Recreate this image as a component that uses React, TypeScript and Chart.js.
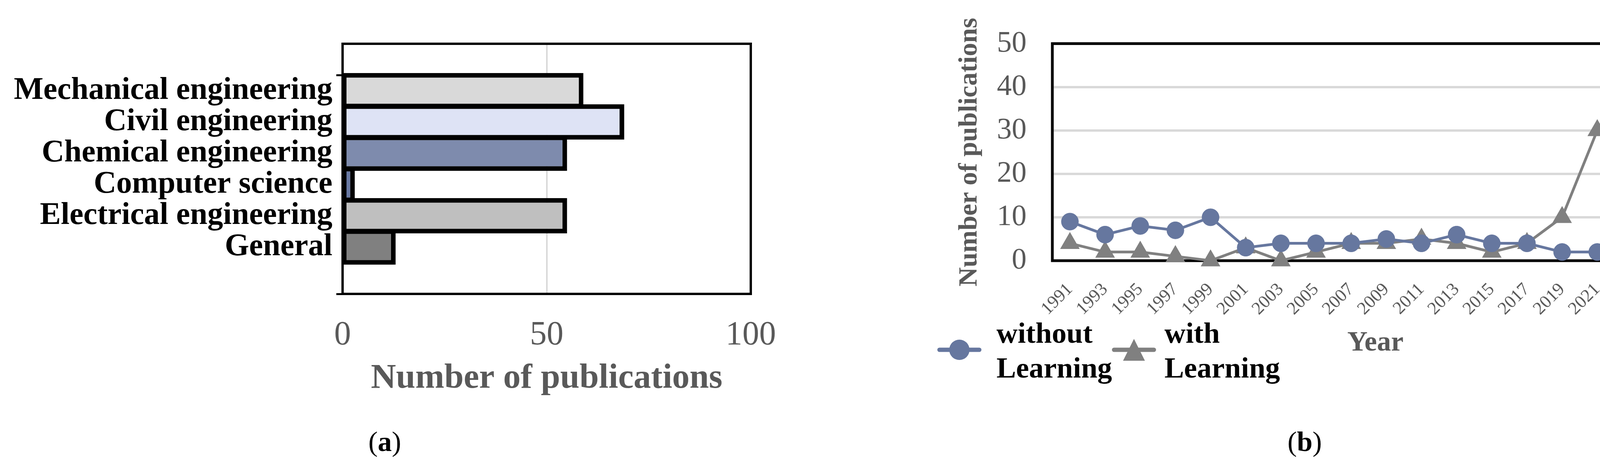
import React, { useEffect, useRef } from 'react';
import { Chart, registerables } from 'chart.js';

Chart.register(...registerables);

const FONT = '"Liberation Serif", "Times New Roman", serif';
const GRAY_TEXT = '#595959';
const GRID = '#d9d9d9';
const CLEAR = 'rgba(0,0,0,0)';

// ---------- (a) publications by field ----------
const fields = [
  'Mechanical engineering',
  'Civil engineering',
  'Chemical engineering',
  'Computer science',
  'Electrical engineering',
  'General',
];
const publications = [59, 69, 55, 3, 55, 13];
const fieldColors = ['#d9d9d9', '#dee3f5', '#7e8bad', '#6979a3', '#bfbfbf', '#808080'];
const xTitleA = 'Number of publications';

// ---------- (b) publications per year ----------
const years = [
  '1991', '1993', '1995', '1997', '1999', '2001', '2003', '2005', '2007',
  '2009', '2011', '2013', '2015', '2017', '2019', '2021', '2023',
];
const withoutLearning = [9, 6, 8, 7, 10, 3, 4, 4, 4, 5, 4, 6, 4, 4, 2, 2, 1];
const withLearning = [4, 2, 2, 1, 0, 3, 0, 2, 4, 4, 5, 4, 2, 4, 10, 30, 40];
const seriesNames = ['without Learning', 'with Learning'];
const seriesColors = ['#66779f', '#808080'];
const yTitleB = 'Number of publications';
const xTitleB = 'Year';

function drawFrame(chart: any, opts: any) {
  const { ctx, chartArea: a } = chart;
  ctx.save();
  ctx.strokeStyle = '#000';
  ctx.lineWidth = opts.width || 6;
  ctx.strokeRect(a.left, a.top, a.right - a.left, a.bottom - a.top);
  ctx.restore();
}

const framePlugin = {
  id: 'frame',
  beforeDatasetsDraw(chart: any, _a: any, opts: any) {
    if (!opts.after) drawFrame(chart, opts);
  },
  afterDatasetsDraw(chart: any, _a: any, opts: any) {
    if (opts.after) drawFrame(chart, opts);
  },
};

const legendPlugin = {
  id: 'customLegend',
  afterDraw(chart: any, _a: any, o: any) {
    const ctx = chart.ctx;
    chart.data.datasets.forEach((d: any, i: number) => {
      const it = o.items[i];
      ctx.save();
      ctx.strokeStyle = d.borderColor;
      ctx.lineWidth = o.lineWidth;
      ctx.lineCap = 'round';
      ctx.beginPath();
      ctx.moveTo(it.x, o.y);
      ctx.lineTo(it.x + o.lineLen, o.y);
      ctx.stroke();
      const cx = it.x + o.lineLen / 2;
      ctx.fillStyle = d.pointBackgroundColor;
      ctx.beginPath();
      if (d.pointStyle === 'triangle') {
        const r = o.triR;
        ctx.moveTo(cx, o.y - r);
        ctx.lineTo(cx + r, o.y + r);
        ctx.lineTo(cx - r, o.y + r);
        ctx.closePath();
      } else {
        ctx.arc(cx, o.y, o.circR, 0, Math.PI * 2);
      }
      ctx.fill();
      ctx.fillStyle = '#000';
      ctx.font = `bold ${o.fontSize}px ${FONT}`;
      ctx.textAlign = 'left';
      ctx.textBaseline = 'alphabetic';
      const lines = String(d.label).split(' ');
      lines.forEach((ln: string, k: number) => {
        ctx.fillText(ln, it.tx, o.baseline + k * o.lineGap);
      });
      ctx.restore();
    });
  },
};

const axisTitlePlugin = {
  id: 'xTitle',
  afterDraw(chart: any, _a: any, o: any) {
    const ctx = chart.ctx;
    ctx.save();
    ctx.fillStyle = GRAY_TEXT;
    ctx.font = `bold ${o.fontSize}px ${FONT}`;
    ctx.textAlign = 'center';
    ctx.textBaseline = 'alphabetic';
    ctx.fillText(o.text, o.x, o.y);
    ctx.restore();
  },
};

function configA(): any {
  return {
    type: 'bar',
    data: {
      datasets: [
        {
          data: publications.map((v, i) => ({ x: v, y: i })),
          backgroundColor: fieldColors,
          borderColor: '#000',
          borderWidth: { top: 12, right: 12, bottom: 12, left: 8 },
          borderSkipped: false,
          barPercentage: 1.13,
          categoryPercentage: 1,
        },
      ],
    },
    options: {
      indexAxis: 'y',
      responsive: false,
      animation: false,
      devicePixelRatio: 1,
      events: [],
      layout: { padding: { left: 0, top: 112, right: 214, bottom: 0 } },
      plugins: {
        legend: { display: false },
        tooltip: { enabled: false },
        frame: { width: 6, after: true },
      },
      scales: {
        x: {
          type: 'linear',
          min: 0,
          max: 100,
          border: { display: false },
          grid: {
            drawTicks: false,
            lineWidth: 4,
            color: (c: any) => (c.tick && c.tick.value === 50 ? GRID : CLEAR),
          },
          ticks: {
            stepSize: 50,
            autoSkip: false,
            padding: 55,
            color: GRAY_TEXT,
            font: { family: FONT, size: 86 },
          },
          title: {
            display: true,
            text: xTitleA,
            color: GRAY_TEXT,
            font: { family: FONT, size: 89, weight: 'bold' },
            padding: { top: 0, bottom: 178 },
          },
          afterFit: (s: any) => {
            s.height = 448;
          },
        },
        y: {
          type: 'linear',
          min: -1,
          max: 6,
          reverse: true,
          border: { display: false },
          grid: {
            drawOnChartArea: false,
            drawTicks: true,
            tickLength: 16,
            lineWidth: 5,
            color: (c: any) =>
              c.tick && (c.tick.value === -1 || c.tick.value === 6) ? '#000' : CLEAR,
          },
          ticks: {
            stepSize: 1,
            autoSkip: false,
            padding: 10,
            color: '#000',
            font: { family: FONT, size: 80, weight: 'bold' },
            callback: (v: any) => (fields[v] !== undefined ? fields[v] : ''),
          },
          afterFit: (s: any) => {
            s.width = 877;
          },
        },
      },
    },
    plugins: [framePlugin],
  };
}

function configB(): any {
  return {
    type: 'line',
    data: {
      labels: years,
      datasets: [
        {
          label: seriesNames[0],
          data: withoutLearning,
          borderColor: seriesColors[0],
          backgroundColor: seriesColors[0],
          pointBackgroundColor: seriesColors[0],
          pointBorderColor: seriesColors[0],
          borderWidth: 7,
          pointStyle: 'circle',
          pointRadius: 22,
          pointBorderWidth: 1,
          clip: false,
        },
        {
          label: seriesNames[1],
          data: withLearning,
          borderColor: seriesColors[1],
          backgroundColor: seriesColors[1],
          pointBackgroundColor: seriesColors[1],
          pointBorderColor: seriesColors[1],
          borderWidth: 7,
          pointStyle: 'triangle',
          pointRadius: 27,
          pointBorderWidth: 2,
          clip: false,
        },
      ],
    },
    options: {
      responsive: false,
      animation: false,
      devicePixelRatio: 1,
      events: [],
      layout: { padding: { left: 0, top: 103, right: 48, bottom: 0 } },
      plugins: {
        legend: { display: false },
        tooltip: { enabled: false },
        frame: { width: 7, after: false },
        customLegend: {
          y: 895,
          lineLen: 102,
          lineWidth: 11,
          circR: 26,
          triR: 28,
          fontSize: 75,
          baseline: 877,
          lineGap: 89,
          items: [
            { x: 269, tx: 415 },
            { x: 716, tx: 845 },
          ],
        },
        xTitle: { text: xTitleB, x: 1385, y: 897, fontSize: 72 },
      },
      scales: {
        x: {
          type: 'category',
          offset: true,
          border: { display: false },
          grid: { display: false },
          ticks: {
            autoSkip: false,
            minRotation: 45,
            maxRotation: 45,
            padding: 39,
            color: GRAY_TEXT,
            font: { family: FONT, size: 46 },
          },
          afterFit: (s: any) => {
            s.height = 533;
          },
        },
        y: {
          type: 'linear',
          min: 0,
          max: 50,
          border: { display: false },
          grid: {
            drawTicks: false,
            lineWidth: 6,
            color: (c: any) =>
              c.tick && (c.tick.value === 0 || c.tick.value === 50) ? CLEAR : GRID,
          },
          ticks: {
            stepSize: 10,
            autoSkip: false,
            padding: 66,
            color: GRAY_TEXT,
            font: { family: FONT, size: 76 },
          },
          title: {
            display: true,
            text: yTitleB,
            color: GRAY_TEXT,
            font: { family: FONT, size: 68, weight: 'bold' },
            padding: { top: 306, bottom: 0 },
          },
          afterFit: (s: any) => {
            s.width = 558;
          },
        },
      },
    },
    plugins: [framePlugin, legendPlugin, axisTitlePlugin],
  };
}

const captionStyle = (cx: number): React.CSSProperties => ({
  position: 'absolute',
  left: cx - 100,
  width: 200,
  top: 1094,
  textAlign: 'center',
  fontFamily: FONT,
  fontSize: 72,
  lineHeight: '72px',
  color: '#000',
});

export default function App() {
  const refA = useRef<HTMLCanvasElement>(null);
  const refB = useRef<HTMLCanvasElement>(null);

  useEffect(() => {
    const a = new Chart(refA.current as HTMLCanvasElement, configA());
    const b = new Chart(refB.current as HTMLCanvasElement, configB());
    return () => {
      a.destroy();
      b.destroy();
    };
  }, []);

  return (
    <div
      style={{
        position: 'absolute',
        left: 0,
        top: 0,
        width: 4272,
        height: 1200,
        background: '#fff',
        overflow: 'hidden',
      }}
    >
      <canvas
        ref={refA}
        width={2136}
        height={1200}
        style={{ position: 'absolute', left: 0, top: 0, width: 2136, height: 1200 }}
      />
      <canvas
        ref={refB}
        width={2136}
        height={1200}
        style={{ position: 'absolute', left: 2136, top: 0, width: 2136, height: 1200 }}
      />
      <div style={captionStyle(985)}>
        (<b>a</b>)
      </div>
      <div style={captionStyle(3340)}>
        (<b>b</b>)
      </div>
    </div>
  );
}
